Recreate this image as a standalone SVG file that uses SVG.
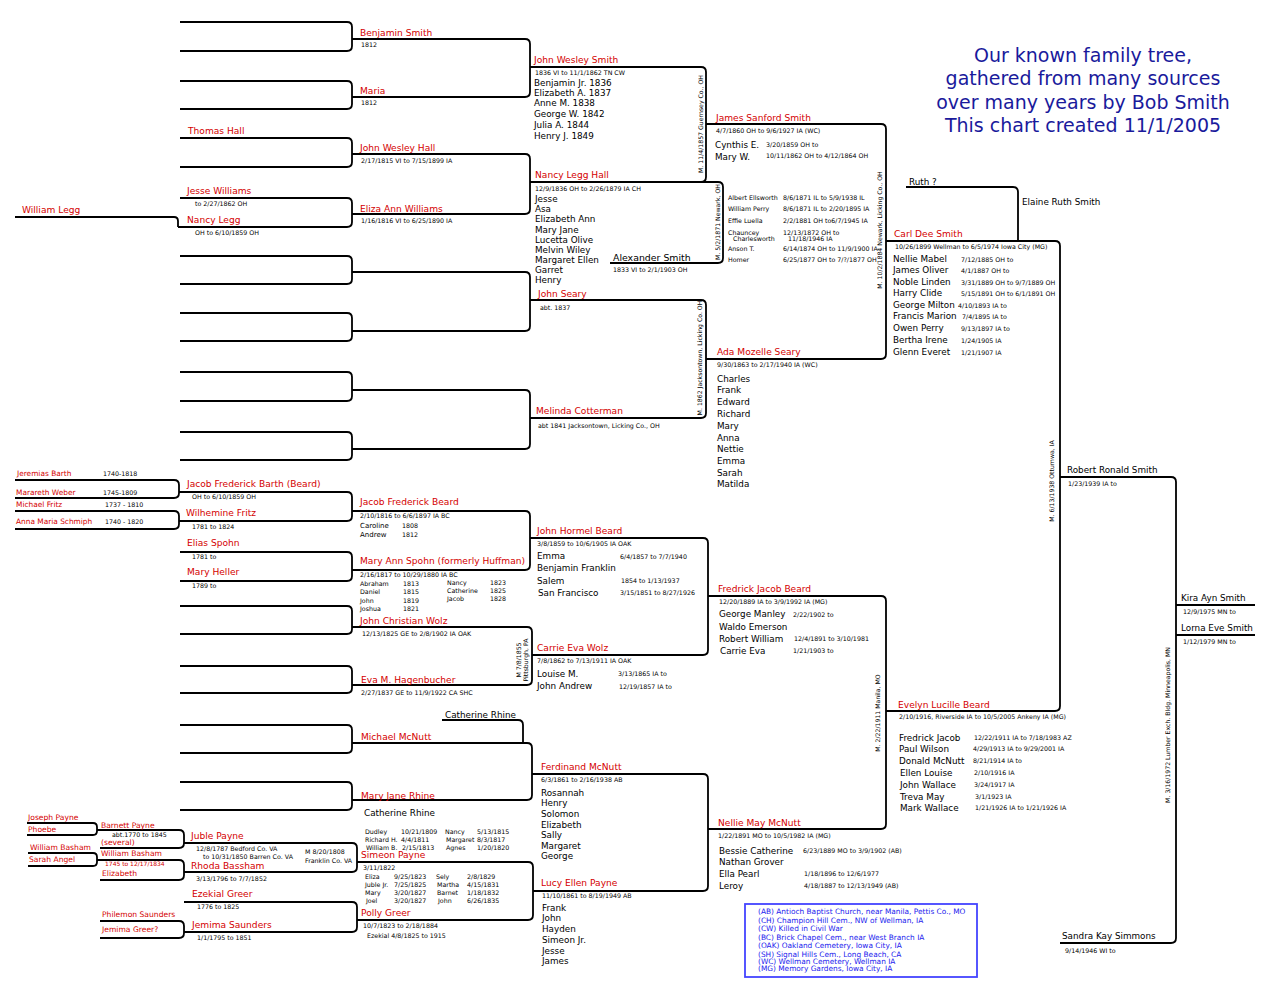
<svg xmlns="http://www.w3.org/2000/svg" width="1270" height="995" viewBox="0 0 1270 995">
<style>
text{font-family:"DejaVu Sans","Liberation Sans",sans-serif}
.n{fill:#d40000;font-size:9.1px}
.b{fill:#000;font-size:8.8px}
.s{fill:#000;font-size:6.3px}
.r{fill:#000;font-size:6.2px}
.t{fill:#1a1a9c;font-size:19px}
.lg{fill:#2222ee;font-size:7.4px}
#connectors path{fill:none;stroke:#000;stroke-width:1.8}
</style>
<rect width="1270" height="995" fill="#fff"/>
<g id="connectors">
<path d="M180 22H347Q352 22 352 27V46Q352 51 347 51H180"/>
<path d="M180 81H347Q352 81 352 86V104Q352 109 347 109H180"/>
<path d="M180 138H347Q352 138 352 143V162Q352 167 347 167H180"/>
<path d="M180 198H347Q352 198 352 203V222Q352 227 347 227H178"/>
<path d="M15 217H174Q178 217 178 221V227"/>
<path d="M352 39H525Q530 39 530 44V92Q530 97 525 97H352"/>
<path d="M352 154H525Q530 154 530 159V209Q530 214 525 214H352"/>
<path d="M530 67H701Q706 67 706 72V177Q706 182 701 182H530"/>
<path d="M530 182H718Q723 182 723 187V258Q723 263 718 263H610"/>
<path d="M180 256H347Q352 256 352 261V279Q352 284 347 284H180"/>
<path d="M180 313H347Q352 313 352 318V336Q352 341 347 341H180"/>
<path d="M180 372H347Q352 372 352 377V396Q352 401 347 401H180"/>
<path d="M180 432H347Q352 432 352 437V455Q352 460 347 460H180"/>
<path d="M352 272H525Q530 272 530 277V326Q530 331 525 331H352"/>
<path d="M352 390H525Q530 390 530 395V444Q530 449 525 449H352"/>
<path d="M530 300H701Q706 300 706 305V413Q706 418 701 418H530"/>
<path d="M706 124H881Q886 124 886 129V354Q886 359 881 359H706"/>
<path d="M906 187H1013Q1018 187 1018 192V241"/>
<path d="M886 241H1055Q1060 241 1060 246V706Q1060 711 1055 711H886"/>
<path d="M1060 477H1171Q1176 477 1176 482V938Q1176 943 1171 943H1060"/>
<path d="M1176 605H1255M1176 635H1255"/>
<path d="M15 480H174Q179 480 179 485V493Q179 498 174 498H15"/>
<path d="M15 511H174Q179 511 179 516V524Q179 529 174 529H15"/>
<path d="M179 492H347Q352 492 352 497V516Q352 521 347 521H179"/>
<path d="M180 552H347Q352 552 352 557V576Q352 581 347 581H180"/>
<path d="M352 511H525Q530 511 530 516V565Q530 570 525 570H352"/>
<path d="M180 606H347Q352 606 352 611V629Q352 634 347 634H180"/>
<path d="M180 666H347Q352 666 352 671V688Q352 693 347 693H180"/>
<path d="M352 627H527Q532 627 532 632V680Q532 685 527 685H352"/>
<path d="M530 538H703Q708 538 708 543V650Q708 655 703 655H532"/>
<path d="M708 596H881Q886 596 886 601V824Q886 829 881 829H708"/>
<path d="M180 725H347Q352 725 352 730V748Q352 753 347 753H180"/>
<path d="M180 782H347Q352 782 352 787V805Q352 810 347 810H180"/>
<path d="M442 720H518Q523 720 523 725V743"/>
<path d="M352 743H527Q532 743 532 748V795Q532 800 527 800H352"/>
<path d="M27 823H93Q97 823 97 827V831Q97 835 93 835H27"/>
<path d="M28 853H93Q97 853 97 857V862Q97 866 93 866H28"/>
<path d="M97 830H179Q184 830 184 835V843Q184 848 179 848H100"/>
<path d="M97 860H179Q184 860 184 865V875Q184 880 179 880H100"/>
<path d="M184 843H352Q357 843 357 848V867Q357 872 352 872H184"/>
<path d="M100 921H179Q184 921 184 926V933Q184 938 179 938H100"/>
<path d="M184 902H352Q357 902 357 907V927Q357 932 352 932H184"/>
<path d="M357 862H528Q533 862 533 867V915Q533 920 528 920H357"/>
<path d="M532 774H703Q708 774 708 779V886Q708 891 703 891H533"/>
</g>

<g id="title">
<text class="t" x="1083" y="62" text-anchor="middle">Our known family tree,</text>
<text class="t" x="1083" y="85" text-anchor="middle">gathered from many sources</text>
<text class="t" x="1083" y="109" text-anchor="middle">over many years by Bob Smith</text>
<text class="t" x="1083" y="132" text-anchor="middle">This chart created 11/1/2005</text>
</g>

<g id="marriages">
<text class="r" transform="translate(703,124) rotate(-90)" text-anchor="middle">M. 11/4/1857 Guernsey Co., OH</text>
<text class="r" transform="translate(720,222) rotate(-90)" text-anchor="middle">M. 5/2/1871 Newark, OH</text>
<text class="r" transform="translate(882,230) rotate(-90)" text-anchor="middle">M. 10/2/1884 Newark, Licking Co., OH</text>
<text class="r" transform="translate(702,358) rotate(-90)" text-anchor="middle">M. 1862 Jacksontown, Licking Co. OH</text>
<text class="r" transform="translate(1054,481) rotate(-90)" text-anchor="middle">M. 6/13/1938 Ottumwa, IA</text>
<text class="r" transform="translate(880,713) rotate(-90)" text-anchor="middle">M. 2/22/1911 Manila, MO</text>
<text class="r" transform="translate(1170,725) rotate(-90)" text-anchor="middle">M. 3/16/1972 Lumber Exch. Bldg. Minneapolis, MN</text>
<text class="r" transform="translate(521,660) rotate(-90)" text-anchor="middle">M 7/8/1855</text>
<text class="r" transform="translate(528,660) rotate(-90)" text-anchor="middle">Pittsburgh, PA</text>
</g>

<g id="benjamin-smith"><text class="n" x="360" y="36">Benjamin Smith</text><text class="s" x="361" y="47">1812</text></g>
<g id="maria"><text class="n" x="360" y="94">Maria</text><text class="s" x="361" y="105">1812</text></g>
<g id="thomas-hall"><text class="n" x="188" y="134">Thomas Hall</text></g>
<g id="john-wesley-hall"><text class="n" x="360" y="151">John Wesley Hall</text><text class="s" x="361" y="163">2/17/1815 VI to 7/15/1899 IA</text></g>
<g id="jesse-williams"><text class="n" x="187" y="194">Jesse Williams</text><text class="s" x="195" y="206">to 2/27/1862 OH</text></g>
<g id="nancy-legg"><text class="n" x="187" y="223">Nancy Legg</text><text class="s" x="195" y="235">OH to 6/10/1859 OH</text></g>
<g id="william-legg"><text class="n" x="22" y="213">William Legg</text></g>
<g id="eliza-ann-williams"><text class="n" x="360" y="212">Eliza Ann Williams</text><text class="s" x="361" y="223">1/16/1816 VI to 6/25/1890 IA</text></g>

<g id="john-wesley-smith"><text class="n" x="534" y="63">John Wesley Smith</text><text class="s" x="535" y="75">1836 VI to 11/1/1862 TN CW</text>
<text class="b" x="534" y="86">Benjamin Jr. 1836</text><text class="b" x="534" y="96">Elizabeth A. 1837</text><text class="b" x="534" y="106">Anne M. 1838</text><text class="b" x="534" y="117">George W. 1842</text><text class="b" x="534" y="128">Julia A. 1844</text><text class="b" x="534" y="139">Henry J. 1849</text></g>

<g id="nancy-legg-hall"><text class="n" x="535" y="178">Nancy Legg Hall</text><text class="s" x="535" y="191">12/9/1836 OH to 2/26/1879 IA CH</text>
<text class="b" x="535" y="202">Jesse</text><text class="b" x="535" y="212">Asa</text><text class="b" x="535" y="222">Elizabeth Ann</text><text class="b" x="535" y="233">Mary Jane</text><text class="b" x="535" y="243">Lucetta Olive</text><text class="b" x="535" y="253">Melvin Wiley</text><text class="b" x="535" y="263">Margaret Ellen</text><text class="b" x="535" y="273">Garret</text><text class="b" x="535" y="283">Henry</text></g>

<g id="alexander-smith"><text class="b" x="613" y="261" style="font-size:9.4px">Alexander Smith</text><text class="s" x="613" y="272">1833 VI to 2/1/1903 OH</text></g>

<g id="smith-children">
<text class="s" x="728" y="200">Albert Ellsworth</text><text class="s" x="783" y="200">8/6/1871 IL to 5/9/1938 IL</text>
<text class="s" x="728" y="211">William Perry</text><text class="s" x="783" y="211">8/6/1871 IL to 2/20/1895 IA</text>
<text class="s" x="728" y="223">Effie Luella</text><text class="s" x="783" y="223">2/2/1881 OH to6/7/1945 IA</text>
<text class="s" x="728" y="235">Chauncey</text><text class="s" x="733" y="241">Charlesworth</text><text class="s" x="783" y="235">12/13/1872 OH to</text><text class="s" x="788" y="241">11/18/1946 IA</text>
<text class="s" x="728" y="251">Anson T.</text><text class="s" x="783" y="251">6/14/1874 OH to 11/9/1900 IA</text>
<text class="s" x="728" y="262">Homer</text><text class="s" x="783" y="262">6/25/1877 OH to 7/?/1877 OH</text>
</g>

<g id="james-sanford-smith"><text class="n" x="716" y="121">James Sanford Smith</text><text class="s" x="716" y="133">4/7/1860 OH to 9/6/1927 IA (WC)</text>
<text class="b" x="715" y="148">Cynthis E.</text><text class="s" x="766" y="147">3/20/1859 OH to</text>
<text class="b" x="715" y="160">Mary W.</text><text class="s" x="766" y="158">10/11/1862 OH to 4/12/1864 OH</text></g>

<g id="john-seary"><text class="n" x="538" y="297">John Seary</text><text class="s" x="540" y="310">abt. 1837</text></g>
<g id="melinda-cotterman"><text class="n" x="536" y="414">Melinda Cotterman</text><text class="s" x="538" y="428">abt 1841 Jacksontown, Licking Co., OH</text></g>
<g id="ada-mozelle-seary"><text class="n" x="717" y="355">Ada Mozelle Seary</text><text class="s" x="717" y="367">9/30/1863 to 2/17/1940 IA  (WC)</text>
<text class="b" x="717" y="382">Charles</text><text class="b" x="717" y="393">Frank</text><text class="b" x="717" y="405">Edward</text><text class="b" x="717" y="417">Richard</text><text class="b" x="717" y="429">Mary</text><text class="b" x="717" y="441">Anna</text><text class="b" x="717" y="452">Nettie</text><text class="b" x="717" y="464">Emma</text><text class="b" x="717" y="476">Sarah</text><text class="b" x="717" y="487">Matilda</text></g>

<g id="ruth"><text class="b" x="909" y="185">Ruth ?</text></g>
<g id="elaine-ruth-smith"><text class="b" x="1022" y="205">Elaine Ruth Smith</text></g>
<g id="carl-dee-smith"><text class="n" x="894" y="237">Carl Dee Smith</text><text class="s" x="895" y="249">10/26/1899 Wellman to 6/5/1974 Iowa City (MG)</text>
<text class="b" x="893" y="262">Nellie Mabel</text><text class="s" x="961" y="262">7/12/1885 OH to</text>
<text class="b" x="893" y="273">James Oliver</text><text class="s" x="961" y="273">4/1/1887 OH to</text>
<text class="b" x="893" y="285">Noble Linden</text><text class="s" x="961" y="285">3/31/1889 OH to 9/7/1889 OH</text>
<text class="b" x="893" y="296">Harry Clide</text><text class="s" x="961" y="296">5/15/1891 OH to 6/1/1891 OH</text>
<text class="b" x="893" y="308">George Milton</text><text class="s" x="958" y="308">4/10/1893 IA to</text>
<text class="b" x="893" y="319">Francis Marion</text><text class="s" x="962" y="319">7/4/1895 IA to</text>
<text class="b" x="893" y="331">Owen Perry</text><text class="s" x="961" y="331">9/13/1897 IA to</text>
<text class="b" x="893" y="343">Bertha Irene</text><text class="s" x="961" y="343">1/24/1905 IA</text>
<text class="b" x="893" y="355">Glenn Everet</text><text class="s" x="961" y="355">1/21/1907 IA</text></g>

<g id="robert-ronald-smith"><text class="b" x="1067" y="473">Robert Ronald Smith</text><text class="s" x="1068" y="486">1/23/1939 IA to</text></g>
<g id="kira-ayn-smith"><text class="b" x="1181" y="601">Kira Ayn Smith</text><text class="s" x="1183" y="614">12/9/1975 MN to</text></g>
<g id="lorna-eve-smith"><text class="b" x="1181" y="631">Lorna Eve Smith</text><text class="s" x="1183" y="644">1/12/1979 MN to</text></g>
<g id="sandra-kay-simmons"><text class="b" x="1062" y="939">Sandra Kay Simmons</text><text class="s" x="1065" y="953">9/14/1946 WI to</text></g>

<g id="barth-grandparents">
<text class="n" x="17" y="476" style="font-size:7.4px">Jeremias Barth</text><text class="s" x="103" y="476">1740-1818</text>
<text class="n" x="16" y="495" style="font-size:7.4px">Marareth Weber</text><text class="s" x="103" y="495">1745-1809</text>
<text class="n" x="16" y="507" style="font-size:7.4px">Michael Fritz</text><text class="s" x="105" y="507">1737 - 1810</text>
<text class="n" x="16" y="524" style="font-size:7.4px">Anna Maria Schmiph</text><text class="s" x="105" y="524">1740 - 1820</text>
</g>
<g id="jacob-frederick-barth"><text class="n" x="187" y="487">Jacob Frederick Barth (Beard)</text><text class="s" x="192" y="499">OH to 6/10/1859 OH</text></g>
<g id="wilhemine-fritz"><text class="n" x="186" y="516">Wilhemine Fritz</text><text class="s" x="192" y="529">1781 to 1824</text></g>
<g id="elias-spohn"><text class="n" x="187" y="546">Elias Spohn</text><text class="s" x="192" y="559">1781 to</text></g>
<g id="mary-heller"><text class="n" x="187" y="575">Mary Heller</text><text class="s" x="192" y="588">1789 to</text></g>
<g id="jacob-frederick-beard"><text class="n" x="360" y="505">Jacob Frederick Beard</text><text class="s" x="360" y="518">2/10/1816 to 6/6/1897 IA BC</text>
<text class="s" x="360" y="528" style="font-size:7px">Caroline</text><text class="s" x="402" y="528">1808</text><text class="s" x="360" y="537" style="font-size:7px">Andrew</text><text class="s" x="402" y="537">1812</text></g>
<g id="mary-ann-spohn"><text class="n" x="360" y="564">Mary Ann Spohn (formerly Huffman)</text><text class="s" x="360" y="577">2/16/1817 to 10/29/1880 IA BC</text>
<text class="s" x="360" y="586">Abraham</text><text class="s" x="403" y="586">1813</text>
<text class="s" x="360" y="594">Daniel</text><text class="s" x="403" y="594">1815</text>
<text class="s" x="360" y="603">John</text><text class="s" x="403" y="603">1819</text>
<text class="s" x="360" y="611">Joshua</text><text class="s" x="403" y="611">1821</text>
<text class="s" x="447" y="585">Nancy</text><text class="s" x="490" y="585">1823</text>
<text class="s" x="447" y="593">Catherine</text><text class="s" x="490" y="593">1825</text>
<text class="s" x="447" y="601">Jacob</text><text class="s" x="490" y="601">1828</text></g>
<g id="john-christian-wolz"><text class="n" x="360" y="624">John Christian Wolz</text><text class="s" x="362" y="636">12/13/1825 GE to 2/8/1902 IA OAK</text></g>
<g id="eva-hagenbucher"><text class="n" x="361" y="683">Eva M. Hagenbucher</text><text class="s" x="361" y="695">2/27/1837 GE to 11/9/1922 CA SHC</text></g>
<g id="john-hormel-beard"><text class="n" x="537" y="534">John Hormel Beard</text><text class="s" x="537" y="546">3/8/1859 to 10/6/1905 IA OAK</text>
<text class="b" x="537" y="559">Emma</text><text class="s" x="620" y="559">6/4/1857 to 7/7/1940</text>
<text class="b" x="537" y="571">Benjamin Franklin</text>
<text class="b" x="537" y="584">Salem</text><text class="s" x="621" y="583">1854 to 1/13/1937</text>
<text class="b" x="538" y="596">San Francisco</text><text class="s" x="620" y="595">3/15/1851 to 8/27/1926</text></g>
<g id="carrie-eva-wolz"><text class="n" x="537" y="651">Carrie Eva Wolz</text><text class="s" x="537" y="663">7/8/1862 to 7/13/1911 IA OAK</text>
<text class="b" x="537" y="677">Louise M.</text><text class="s" x="618" y="676">3/13/1865 IA to</text>
<text class="b" x="537" y="689">John Andrew</text><text class="s" x="619" y="689">12/19/1857 IA to</text></g>
<g id="fredrick-jacob-beard"><text class="n" x="718" y="592">Fredrick Jacob Beard</text><text class="s" x="719" y="604">12/20/1889 IA to 3/9/1992 IA (MG)</text>
<text class="b" x="719" y="617">George Manley</text><text class="s" x="793" y="617">2/22/1902 to</text>
<text class="b" x="719" y="630">Waldo Emerson</text>
<text class="b" x="719" y="642">Robert William</text><text class="s" x="794" y="641">12/4/1891 to 3/10/1981</text>
<text class="b" x="720" y="654">Carrie Eva</text><text class="s" x="793" y="653">1/21/1903 to</text></g>
<g id="evelyn-lucille-beard"><text class="n" x="898" y="708">Evelyn Lucille Beard</text><text class="s" x="899" y="719">2/10/1916, Riverside IA to 10/5/2005 Ankeny IA (MG)</text>
<text class="b" x="899" y="741">Fredrick Jacob</text><text class="s" x="974" y="740">12/22/1911 IA to 7/18/1983 AZ</text>
<text class="b" x="899" y="752">Paul Wilson</text><text class="s" x="973" y="751">4/29/1913 IA to 9/29/2001 IA</text>
<text class="b" x="899" y="764">Donald McNutt</text><text class="s" x="973" y="763">8/21/1914 IA to</text>
<text class="b" x="900" y="776">Ellen Louise</text><text class="s" x="974" y="775">2/10/1916 IA</text>
<text class="b" x="900" y="788">John Wallace</text><text class="s" x="974" y="787">3/24/1917 IA</text>
<text class="b" x="900" y="800">Treva May</text><text class="s" x="975" y="799">3/1/1923 IA</text>
<text class="b" x="900" y="811">Mark Wallace</text><text class="s" x="975" y="810">1/21/1926 IA to 1/21/1926 IA</text></g>

<g id="catherine-rhine-top"><text class="b" x="445" y="718">Catherine Rhine</text></g>
<g id="michael-mcnutt"><text class="n" x="361" y="740">Michael McNutt</text></g>
<g id="mary-jane-rhine"><text class="n" x="361" y="799">Mary Jane Rhine</text><text class="b" x="364" y="816">Catherine Rhine</text>
<text class="s" x="365" y="834">Dudley</text><text class="s" x="401" y="834">10/21/1809</text><text class="s" x="445" y="834">Nancy</text><text class="s" x="477" y="834">5/13/1815</text>
<text class="s" x="365" y="842">Richard H.</text><text class="s" x="401" y="842">4/4/1811</text><text class="s" x="446" y="842">Margaret</text><text class="s" x="477" y="842">8/3/1817</text>
<text class="s" x="366" y="850">William B.</text><text class="s" x="402" y="850">2/15/1813</text><text class="s" x="446" y="850">Agnes</text><text class="s" x="477" y="850">1/20/1820</text></g>
<g id="simeon-payne"><text class="n" x="361" y="858">Simeon Payne</text><text class="s" x="363" y="870">3/11/1822</text>
<text class="s" x="365" y="879">Eliza</text><text class="s" x="394" y="879">9/25/1823</text><text class="s" x="436" y="879">Sely</text><text class="s" x="467" y="879">2/8/1829</text>
<text class="s" x="365" y="887">Juble Jr.</text><text class="s" x="394" y="887">7/25/1825</text><text class="s" x="437" y="887">Martha</text><text class="s" x="467" y="887">4/15/1831</text>
<text class="s" x="365" y="895">Mary</text><text class="s" x="394" y="895">3/20/1827</text><text class="s" x="437" y="895">Barnet</text><text class="s" x="467" y="895">1/18/1832</text>
<text class="s" x="366" y="903">Joel</text><text class="s" x="394" y="903">3/20/1827</text><text class="s" x="438" y="903">John</text><text class="s" x="467" y="903">6/26/1835</text></g>
<g id="polly-greer"><text class="n" x="361" y="916">Polly Greer</text><text class="s" x="363" y="928">10/7/1823 to 2/18/1884</text><text class="s" x="367" y="938">Ezekial  4/8/1825 to 1915</text></g>
<g id="ferdinand-mcnutt"><text class="n" x="541" y="770">Ferdinand McNutt</text><text class="s" x="541" y="782">6/3/1861 to 2/16/1938 AB</text>
<text class="b" x="541" y="796">Rosannah</text><text class="b" x="541" y="806">Henry</text><text class="b" x="541" y="817">Solomon</text><text class="b" x="541" y="828">Elizabeth</text><text class="b" x="541" y="838">Sally</text><text class="b" x="541" y="849">Margaret</text><text class="b" x="541" y="859">George</text></g>
<g id="lucy-ellen-payne"><text class="n" x="541" y="886">Lucy Ellen Payne</text><text class="s" x="542" y="898">11/10/1861 to 8/19/1949 AB</text>
<text class="b" x="542" y="911">Frank</text><text class="b" x="542" y="921">John</text><text class="b" x="542" y="932">Hayden</text><text class="b" x="542" y="943">Simeon Jr.</text><text class="b" x="542" y="954">Jesse</text><text class="b" x="542" y="964">James</text></g>
<g id="nellie-may-mcnutt"><text class="n" x="718" y="826">Nellie May McNutt</text><text class="s" x="718" y="838">1/22/1891 MO to 10/5/1982 IA (MG)</text>
<text class="b" x="719" y="854">Bessie Catherine</text><text class="s" x="803" y="853">6/23/1889 MO to 3/9/1902 (AB)</text>
<text class="b" x="719" y="865">Nathan Grover</text>
<text class="b" x="719" y="877">Ella Pearl</text><text class="s" x="804" y="876">1/18/1896 to 12/6/1977</text>
<text class="b" x="719" y="889">Leroy</text><text class="s" x="804" y="888">4/18/1887 to 12/13/1949 (AB)</text></g>

<g id="payne-ancestors">
<text class="n" x="28" y="820" style="font-size:7.6px">Joseph Payne</text>
<text class="n" x="28" y="832" style="font-size:7.6px">Phoebe</text>
<text class="n" x="30" y="850" style="font-size:7.6px">William Basham</text>
<text class="n" x="29" y="862" style="font-size:7.6px">Sarah Angel</text>
<text class="n" x="101" y="828" style="font-size:7.6px">Barnett Payne</text>
<text class="s" x="112" y="837">abt.1770 to 1845</text>
<text class="n" x="101" y="845" style="font-size:7.6px">(several)</text>
<text class="n" x="101" y="856" style="font-size:7.6px">William Basham</text>
<text class="n" x="105" y="866" style="font-size:6px">1745 to 12/17/1834</text>
<text class="n" x="102" y="876" style="font-size:7.6px">Elizabeth</text>
<text class="n" x="102" y="917" style="font-size:7.6px">Philemon Saunders</text>
<text class="n" x="102" y="932" style="font-size:7.6px">Jemima Greer?</text>
</g>
<g id="juble-payne"><text class="n" x="191" y="839">Juble Payne</text><text class="s" x="196" y="851">12/8/1787 Bedford Co. VA</text><text class="s" x="203" y="859">to 10/31/1850 Barren Co. VA</text><text class="s" x="305" y="854">M 8/20/1808</text><text class="s" x="305" y="863">Franklin Co. VA</text></g>
<g id="rhoda-bassham"><text class="n" x="191" y="869">Rhoda Bassham</text><text class="s" x="196" y="881">3/13/1796 to 7/7/1852</text></g>
<g id="ezekial-greer"><text class="n" x="192" y="897">Ezekial Greer</text><text class="s" x="197" y="909">1776 to 1825</text></g>
<g id="jemima-saunders"><text class="n" x="192" y="928">Jemima Saunders</text><text class="s" x="197" y="940">1/1/1795 to 1851</text></g>

<g id="legend">
<rect x="745" y="904" width="232" height="73" fill="none" stroke="#4444ff" stroke-width="1.8"/>
<text class="lg" x="758" y="914">(AB) Antioch Baptist Church, near Manila, Pettis Co., MO</text>
<text class="lg" x="758" y="923">(CH) Champion Hill Cem., NW of Wellman, IA</text>
<text class="lg" x="758" y="931">(CW) Killed in Civil War</text>
<text class="lg" x="758" y="940">(BC) Brick Chapel Cem., near West Branch IA</text>
<text class="lg" x="758" y="948">(OAK) Oakland Cemetery, Iowa City, IA</text>
<text class="lg" x="758" y="957">(SH) Signal Hills Cem., Long Beach, CA</text>
<text class="lg" x="758" y="964">(WC) Wellman Cemetery, Wellman IA</text>
<text class="lg" x="758" y="971">(MG) Memory Gardens, Iowa City, IA</text>
</g>
</svg>
